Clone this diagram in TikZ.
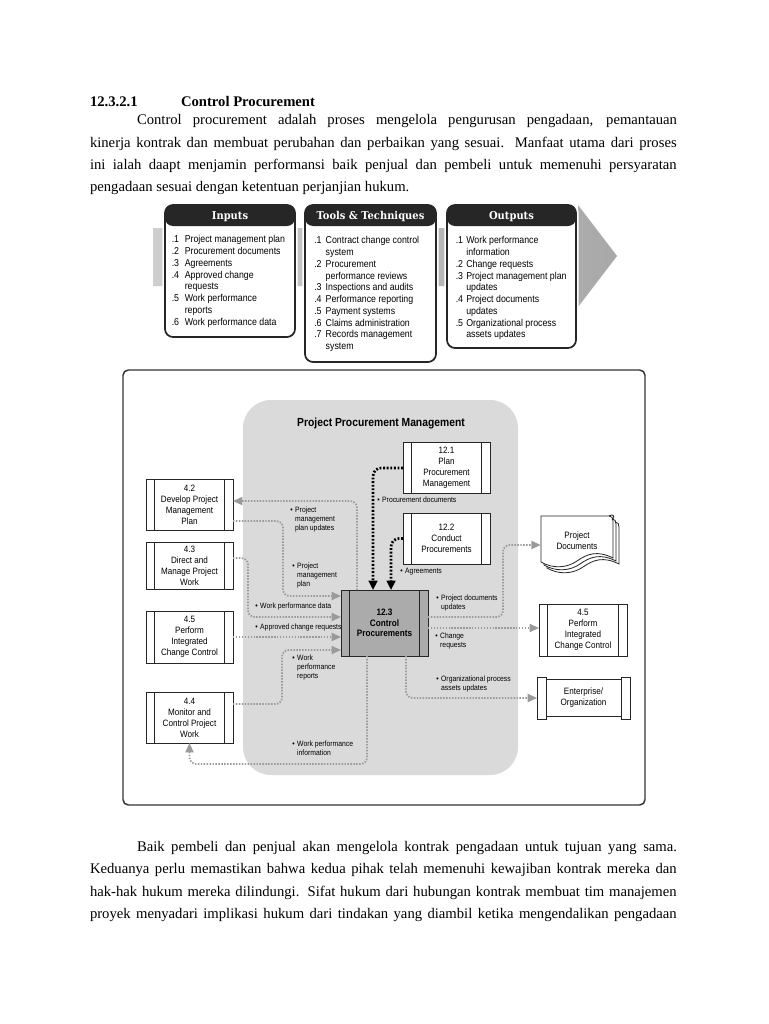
\documentclass[tikz,border=0pt]{standalone}
\usepackage{fontspec}
\setmainfont{Liberation Serif}
\newfontfamily\dsans[FakeStretch=0.88]{Liberation Sans}
\newfontfamily\hdrserif[FakeStretch=0.92]{DejaVu Serif}
\usetikzlibrary{arrows.meta,calc}
\definecolor{regiongray}{HTML}{DADADA}
\definecolor{flowgray}{HTML}{9A9A9A}
\definecolor{boxgray}{HTML}{ABABAB}
\definecolor{hdrdark}{HTML}{262626}
\newcommand\itm[3]{\makebox[#1][l]{#2}#3}
\newcommand\bl{\makebox[3.7pt][l]{\textbullet}}
\newcommand\ind{\hspace*{3.7pt}}
\begin{document}
\begin{tikzpicture}[x=0.75pt,y=-0.75pt,
  bodyfont/.style={font=\fontsize{11}{13}\selectfont},
  bline/.style={anchor=base west, inner sep=0pt, outer sep=0pt, bodyfont},
  proc/.style={draw=black!85, line width=0.7pt, fill=white, inner sep=0pt, outer sep=0pt,
    minimum width=65.25pt, minimum height=38.25pt, align=center,
    font=\dsans\fontsize{6.9}{8.25}\selectfont,
    path picture={
      \draw[line width=0.6pt] ([xshift=6.5pt]path picture bounding box.north west) -- ([xshift=6.5pt]path picture bounding box.south west);
      \draw[line width=0.6pt] ([xshift=-6.5pt]path picture bounding box.north east) -- ([xshift=-6.5pt]path picture bounding box.south east);}},
  ittobox/.style={draw=hdrdark, line width=1.3pt, fill=white, rounded corners=6pt, inner sep=0pt, outer sep=0pt,
    preaction={draw=white, line width=4pt},
    path picture={\fill[hdrdark] (path picture bounding box.north west) rectangle ([yshift=-15.75pt]path picture bounding box.north east);}},
  ittohdr/.style={anchor=base, inner sep=0pt, text=white, font=\hdrserif\bfseries\fontsize{8.1}{9}\selectfont},
  ittolist/.style={anchor=north west, inner sep=0pt, align=left, font=\dsans\fontsize{7.5}{8.8}\selectfont},
  gflow/.style={draw=flowgray, line width=1.3pt, dash pattern=on 1.1pt off 1.1pt, rounded corners=5pt,
    -{Triangle[width=6pt,length=7pt]}},
  bflow/.style={draw=black, line width=2pt, dash pattern=on 1.4pt off 1.3pt, rounded corners=6pt,
    -{Triangle[width=6.5pt,length=7pt]}},
  lbl/.style={anchor=north west, inner sep=0pt, align=left, font=\dsans\fontsize{5.8}{6.75}\selectfont},
]
\useasboundingbox (0,0) rectangle (768,1024);
\fill[white] (0,0) rectangle (768,1024);

% ---------- heading and first paragraph ----------
\node[bline, font=\bfseries\fontsize{11}{13}\selectfont] (h1) at (90,107) {12.3.2.1};
\node[bline, font=\bfseries\fontsize{11}{13}\selectfont] (h2) at (181,107) {Control Procurement};
\node[bline] (t1) at (137,124.5) {\makebox[405pt][s]{Control procurement adalah proses mengelola pengurusan pengadaan, pemantauan}};
\node[bline] (t2) at (90,147.5) {\makebox[440pt][s]{kinerja kontrak dan membuat perubahan dan perbaikan yang sesuai. Manfaat utama dari proses}};
\node[bline] (t3) at (90,169.5) {\makebox[440pt][s]{ini ialah daapt menjamin performansi baik penjual dan pembeli untuk memenuhi persyaratan}};
\node[bline] (t4) at (90,191.5) {pengadaan sesuai dengan ketentuan perjanjian hukum.};

% ---------- ITTO strip ----------
\shade[left color=gray!38, right color=gray!68] (153,228) -- (578,228) -- (578,205) -- (617,256) -- (578,307) -- (578,286) -- (153,286) -- cycle;

\node[ittobox, minimum width=97.5pt, minimum height=99pt] (bin) at (230,271) {};
\node[ittobox, minimum width=98.25pt, minimum height=117.75pt] (btt) at (370.5,283.5) {};
\node[ittobox, minimum width=96.75pt, minimum height=107.25pt] (bout) at (511.5,276.5) {};
\node[ittohdr] (hin) at (230,219.5) {Inputs};
\node[ittohdr] (htt) at (370.5,219.5) {Tools \& Techniques};
\node[ittohdr] (hout) at (511.5,219.5) {Outputs};

\node[ittolist] (lin) at (171.5,234) {\rule{0pt}{6.5pt}\itm{9.75pt}{.1}{Project management plan}\\
\itm{9.75pt}{.2}{Procurement documents}\\
\itm{9.75pt}{.3}{Agreements}\\
\itm{9.75pt}{.4}{Approved change}\\
\hspace*{9.75pt}requests\\
\itm{9.75pt}{.5}{Work performance}\\
\hspace*{9.75pt}reports\\
\itm{9.75pt}{.6}{Work performance data}};

\node[ittolist] (ltt) at (314,235) {\rule{0pt}{6.5pt}\itm{8.6pt}{.1}{Contract change control}\\
\hspace*{8.6pt}system\\
\itm{8.6pt}{.2}{Procurement}\\
\hspace*{8.6pt}performance reviews\\
\itm{8.6pt}{.3}{Inspections and audits}\\
\itm{8.6pt}{.4}{Performance reporting}\\
\itm{8.6pt}{.5}{Payment systems}\\
\itm{8.6pt}{.6}{Claims administration}\\
\itm{8.6pt}{.7}{Records management}\\
\hspace*{8.6pt}system};

\node[ittolist] (lout) at (455.5,235) {\rule{0pt}{6.5pt}\itm{7.9pt}{.1}{Work performance}\\
\hspace*{7.9pt}information\\
\itm{7.9pt}{.2}{Change requests}\\
\itm{7.9pt}{.3}{Project management plan}\\
\hspace*{7.9pt}updates\\
\itm{7.9pt}{.4}{Project documents}\\
\hspace*{7.9pt}updates\\
\itm{7.9pt}{.5}{Organizational process}\\
\hspace*{7.9pt}assets updates};

% ---------- data flow diagram ----------
\draw[draw=black!80, line width=1.1pt, rounded corners=4pt] (123,370) rectangle (645,805);
\fill[regiongray, rounded corners=21pt] (243,400) rectangle (518,775);
\node[font=\dsans\bfseries\fontsize{8.8}{10}\selectfont, inner sep=0pt] (ttl) at (381,423) {Project Procurement Management};

\node[proc] (p121) at (446.5,468) {12.1\\Plan\\Procurement\\Management};
\node[proc, minimum height=38.25pt] (p122) at (446.5,538.5) {12.2\\Conduct\\Procurements};
\node[proc, fill=boxgray, minimum height=49.5pt, font=\dsans\bfseries\fontsize{7}{7.9}\selectfont] (p123) at (384.5,623) {12.3\\Control\\Procurements};
\node[proc] (p42) at (189.5,504.5) {4.2\\Develop Project\\Management\\Plan};
\node[proc, minimum height=35.25pt] (p43) at (189.5,565.5) {4.3\\Direct and\\Manage Project\\Work};
\node[proc, minimum height=39pt] (p45l) at (189.5,637) {4.5\\Perform\\Integrated\\Change Control};
\node[proc] (p44) at (189.5,717.5) {4.4\\Monitor and\\Control Project\\Work};
\node[proc, minimum width=66pt, minimum height=39pt] (p45r) at (583,630) {4.5\\Perform\\Integrated\\Change Control};

% project documents (stack of pages)
\foreach \d in {6,3,0}{
  \draw[fill=white, line width=0.6pt, draw=black!85]
    (541+\d,516+\d) -- (609+\d,516+\d) .. controls (612+\d,516+\d) and (613+\d,518+\d) .. (613+\d,521+\d)
    -- (613+\d,558+\d) .. controls (597+\d,550+\d) and (587+\d,554+\d) .. (577+\d,561+\d)
    .. controls (567+\d,568+\d) and (553+\d,569+\d) .. (541+\d,562+\d) -- cycle;
}
\draw[line width=0.6pt, draw=black!85] (609,516) .. controls (613,513) and (616,517) .. (612,520);
\node[inner sep=0pt, minimum width=54pt, minimum height=33pt] (doc) at (577,545) {};
\node[font=\dsans\fontsize{6.9}{8}\selectfont, align=center, inner sep=0pt] (doctext) at (577,541) {Project\\Documents};

% enterprise / organization
\node[inner sep=0pt, outer sep=0pt, minimum width=69.75pt, minimum height=31.5pt, align=center,
      font=\dsans\fontsize{6.9}{8.25}\selectfont] (ent) at (583.5,698) {Enterprise/\\Organization};
\draw[line width=0.6pt, draw=black!85] ([yshift=-1.6pt,xshift=6.75pt]ent.north west) rectangle ([yshift=1.6pt,xshift=-6.2pt]ent.south east);
\draw[line width=0.6pt, draw=black!85, fill=white] (ent.north west) rectangle ([xshift=6.75pt]ent.south west);
\draw[line width=0.6pt, draw=black!85, fill=white] ([xshift=-6.2pt]ent.north east) rectangle (ent.south east);

% gray flows
\draw[gflow] ([xshift=-20.6pt]p123.north) |- ([yshift=2.6pt]p42.east);
\draw[gflow] ([yshift=-12.4pt]p42.east) -- ++(50,0) |- ([yshift=20.25pt]p123.west);
\draw[gflow] ([yshift=5.6pt]p43.east) -- ++(15,0) |- ([yshift=4.5pt]p123.west);
\draw[gflow] (p45l.east) -- ([yshift=-10.5pt]p123.west);
\draw[gflow] ([yshift=10.1pt]p44.east) -- ++(49,0) |- ([yshift=-20.25pt]p123.west);
\draw[gflow] ([xshift=-13.1pt]p123.south) -- ++(0,108) -| (p44.south);
\draw[gflow] ([yshift=4.5pt]p123.east) -- ++(75,0) |- (doc.west);
\coordinate (crs) at ([yshift=-3.75pt]p123.east);
\draw[gflow] (crs) -- (crs -| p45r.west);
\draw[gflow] ([xshift=16.1pt]p123.south) |- (ent.west);

% black flows
\draw[bflow] (p121.west) -| ([xshift=-8.6pt]p123.north);
\draw[bflow] (p122.west) -| ([xshift=4.9pt]p123.north);

% flow labels
\node[lbl] (lpd) at (377,497) {\bl Procurement documents};
\node[lbl] (lag) at (400,568) {\bl Agreements};
\node[lbl] (lpmpu) at (290,507) {\bl Project\\\ind management\\\ind plan updates};
\node[lbl] (lpmp) at (292,563) {\bl Project\\\ind management\\\ind plan};
\node[lbl] (lwpd) at (255,603) {\bl Work performance data};
\node[lbl] (lacr) at (255,624) {\bl Approved change requests};
\node[lbl] (lwpr) at (292,655) {\bl Work\\\ind performance\\\ind reports};
\node[lbl] (lwpi) at (292,741) {\bl Work performance\\\ind information};
\node[lbl] (lpdu) at (436,595) {\bl Project documents\\\ind updates};
\node[lbl] (lcr) at (435,633) {\bl Change\\\ind requests};
\node[lbl] (lopa) at (436,676) {\bl Organizational process\\\ind assets updates};

% ---------- second paragraph ----------
\node[bline] (b1) at (137,851) {\makebox[405pt][s]{Baik pembeli dan penjual akan mengelola kontrak pengadaan untuk tujuan yang sama.}};
\node[bline] (b2) at (90,873.5) {\makebox[440pt][s]{Keduanya perlu memastikan bahwa kedua pihak telah memenuhi kewajiban kontrak mereka dan}};
\node[bline] (b3) at (90,896) {\makebox[440pt][s]{hak-hak hukum mereka dilindungi. Sifat hukum dari hubungan kontrak membuat tim manajemen}};
\node[bline] (b4) at (90,918.5) {\makebox[440pt][s]{proyek menyadari implikasi hukum dari tindakan yang diambil ketika mengendalikan pengadaan}};
\end{tikzpicture}
\end{document}
